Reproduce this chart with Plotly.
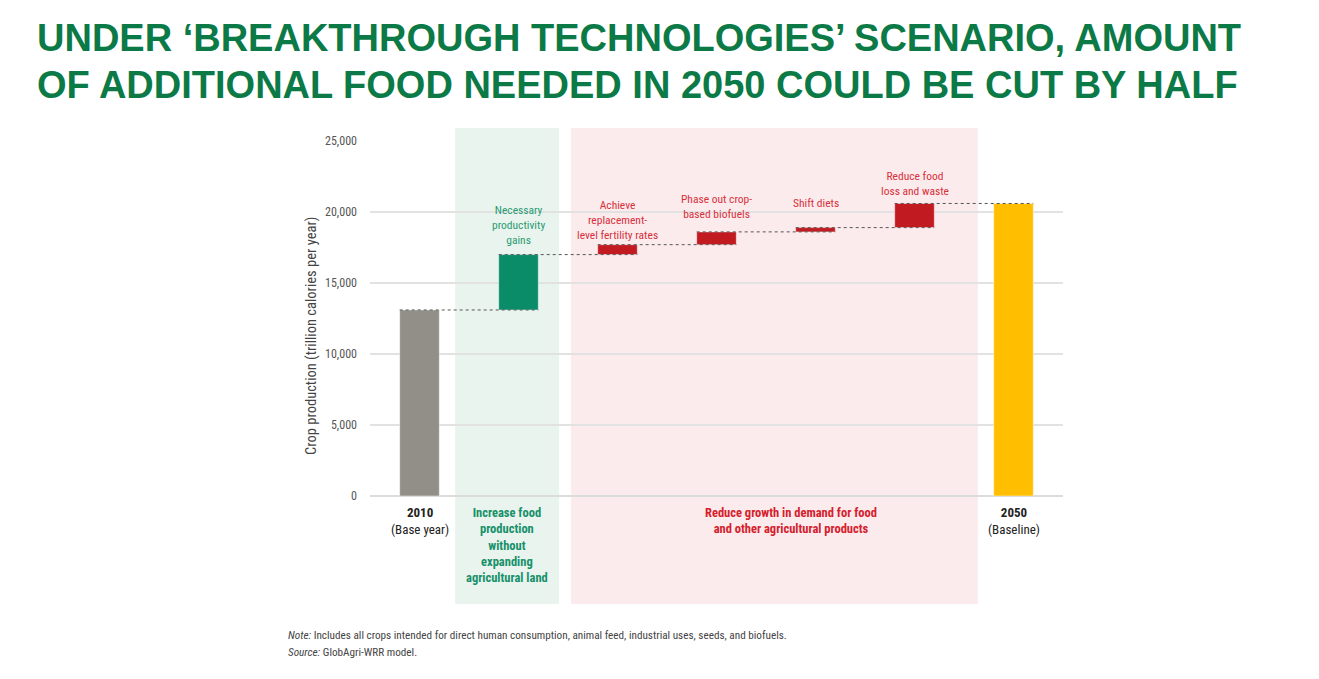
import plotly.graph_objects as go

# ---------------- data ----------------
categories = ["2010", "Productivity gains", "Fertility rates", "Biofuels",
              "Shift diets", "Food loss and waste", "2050"]
bar_base = [0, 13100, 17000, 17700, 18600, 18900, 0]
bar_top = [13100, 17000, 17700, 18600, 18900, 20600, 20600]
bar_colors = ["#918f87", "#0a8c69", "#c21a21", "#c21a21", "#c21a21", "#c21a21", "#ffbf00"]
top_labels = ["", "Necessary<br>productivity<br>gains",
              "Achieve<br>replacement-<br>level fertility rates",
              "Phase out crop-<br>based biofuels", "Shift diets",
              "Reduce food<br>loss and waste", ""]
y_ticks = [0, 5000, 10000, 15000, 20000, 25000]

# ---------------- layout geometry (pixels) ----------------
W, H = 1319, 679
PL, PR, PT, PB = 370, 1063, 141, 496


def px(x):
    return (x - PL) / (PR - PL)


def py(y):
    return (PB - y) / (PB - PT)


FONT = "Liberation Sans Narrow, Roboto Condensed, Roboto, sans-serif"
GREEN_T = "#2a9b72"
RED_T = "#d7303c"

xs = list(range(len(categories)))
fig = go.Figure()

fig.add_trace(go.Bar(
    x=xs, y=[t - b for t, b in zip(bar_top, bar_base)], base=bar_base,
    width=0.4, marker=dict(color=bar_colors, line=dict(color="rgba(255,255,255,0.6)", width=0.8)),
    hoverinfo="skip", showlegend=False))

# dotted connectors
for i in range(len(xs) - 1):
    fig.add_trace(go.Scatter(
        x=[xs[i] - 0.2, xs[i + 1] + 0.2], y=[bar_top[i], bar_top[i]],
        mode="lines", line=dict(color="#555555", width=1, dash="dot"),
        hoverinfo="skip", showlegend=False))

shapes = [
    dict(type="rect", xref="x", yref="paper", x0=0.36, x1=1.41,
         y0=py(604), y1=py(128), fillcolor="#e9f4ef", line=dict(width=0), layer="below"),
    dict(type="rect", xref="x", yref="paper", x0=1.53, x1=5.64,
         y0=py(604), y1=py(128), fillcolor="#fcebec", line=dict(width=0), layer="below"),
]

annotations = []
# labels above bars
label_pos = {1: 225, 2: 220, 3: 206, 4: 203, 5: 183}
for i, lab in enumerate(top_labels):
    if not lab:
        continue
    annotations.append(dict(
        x=xs[i], xref="x", y=py(label_pos[i]), yref="paper", text=lab,
        showarrow=False, xanchor="center", yanchor="middle",
        font=dict(family=FONT, size=11.5, color=GREEN_T if i == 1 else RED_T)))

# bottom labels
annotations += [
    dict(x=xs[0], xref="x", y=py(503), yref="paper",
         text="<b>2010</b><br>(Base year)", showarrow=False, yanchor="top",
         font=dict(family=FONT, size=13, color="#222222")),
    dict(x=xs[6], xref="x", y=py(503), yref="paper",
         text="<b>2050</b><br>(Baseline)", showarrow=False, yanchor="top",
         font=dict(family=FONT, size=13, color="#222222")),
    dict(x=(0.36 + 1.41) / 2, xref="x", y=py(503), yref="paper",
         text="<b>Increase food<br>production<br>without<br>expanding<br>agricultural land</b>",
         showarrow=False, yanchor="top",
         font=dict(family=FONT, size=12.5, color="#17906a")),
    dict(x=px(791), xref="paper", y=py(503), yref="paper",
         text="<b>Reduce growth in demand for food<br>and other agricultural products</b>",
         showarrow=False, yanchor="top",
         font=dict(family=FONT, size=12.5, color="#d4202e")),
]

# y-axis title (as annotation so it can sit slightly below plot centre, as in the original)
annotations.append(dict(
    x=px(311), xref="paper", y=py(336), yref="paper",
    text="Crop production (trillion calories per year)", textangle=-90,
    showarrow=False, xanchor="center", yanchor="middle",
    font=dict(family=FONT, size=14.5, color="#444444")))

# title
for txt, yc in [("UNDER ‘BREAKTHROUGH TECHNOLOGIES’ SCENARIO, AMOUNT", 38),
                ("OF ADDITIONAL FOOD NEEDED IN 2050 COULD BE CUT BY HALF", 85)]:
    annotations.append(dict(
        x=px(35), xref="paper", y=py(yc), yref="paper", text=f"<b>{txt}</b>",
        showarrow=False, xanchor="left", yanchor="middle",
        font=dict(family="Liberation Sans, Arial, sans-serif", size=38, color="#0b7a46")))

# notes
annotations += [
    dict(x=px(286), xref="paper", y=py(635), yref="paper",
         text="<i>Note:</i> Includes all crops intended for direct human consumption, animal feed, industrial uses, seeds, and biofuels.",
         showarrow=False, xanchor="left", yanchor="middle",
         font=dict(family=FONT, size=11.2, color="#444444")),
    dict(x=px(286), xref="paper", y=py(652), yref="paper",
         text="<i>Source:</i> GlobAgri-WRR model.",
         showarrow=False, xanchor="left", yanchor="middle",
         font=dict(family=FONT, size=11.2, color="#444444")),
]

fig.update_layout(
    width=W, height=H,
    margin=dict(l=PL, r=W - PR, t=PT, b=H - PB, pad=0),
    paper_bgcolor="white", plot_bgcolor="rgba(0,0,0,0)",
    shapes=shapes, annotations=annotations, bargap=0.6,
    xaxis=dict(range=[-0.5, 6.5], showticklabels=False, showgrid=False,
               zeroline=False, showline=False, fixedrange=True),
    yaxis=dict(range=[0, 25000], tickvals=y_ticks, tickformat=",",
               gridcolor="#e2e2e2", gridwidth=1.5, zeroline=True,
               zerolinecolor="#dcdcdc", zerolinewidth=1.5, showline=False,
               ticks="", ticklabelstandoff=12,
               tickfont=dict(family=FONT, size=12, color="#555555"),
               fixedrange=True),
)

fig.write_html("out.html")
